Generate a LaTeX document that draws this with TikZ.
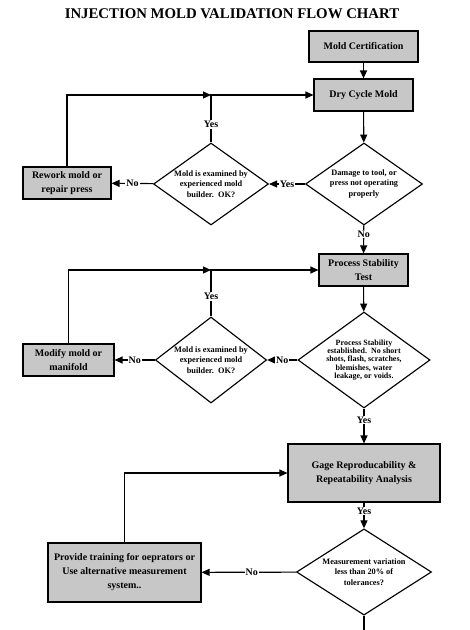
\documentclass[tikz,border=0pt]{standalone}
\usepackage{fontspec}
\setmainfont{Liberation Serif}
\usetikzlibrary{arrows.meta,shapes.geometric}
\tikzset{
  stepbox/.style={draw, line width=0.4mm, fill=black!22, align=center, inner sep=2pt,
    font=\bfseries\fontsize{10}{14}\selectfont},
  choice/.style={draw, diamond, line width=0.4mm, fill=white, align=center, inner sep=0pt,
    aspect=1.4, font=\bfseries\fontsize{8.3}{10.5}\selectfont},
  flow/.style={line width=0.4mm, -{Triangle[length=8pt,width=7pt]}},
  plain/.style={line width=0.4mm},
  tag/.style={fill=white, inner sep=1pt, font=\bfseries\fontsize{10}{12}\selectfont}
}

\begin{document}
\begin{tikzpicture}[x=1pt, y=-1pt]
			%%%%% START %%%%%
			\useasboundingbox (0,0) rectangle (470,630);
			
			\node[font=\bfseries\fontsize{14.8}{17}\selectfont] (title) at (232,14) {INJECTION MOLD VALIDATION FLOW CHART};
			
			% first loop
			\node[stepbox, minimum width=109, minimum height=31] (cert) at (363.5,46.5) {Mold Certification};
			\node[stepbox, minimum width=99, minimum height=32] (dry) at (363.5,95) {Dry Cycle Mold};
			\node[choice, minimum width=117, minimum height=82] (damage) at (364,184) {Damage to tool, or\\press not operating\\properly};
			\node[choice, minimum width=115, minimum height=82] (exam1) at (211,184) {Mold is examined by\\experienced mold\\builder.\ \ OK?};
			\node[stepbox, minimum width=88, minimum height=32] (rework) at (67,183) {Rework mold or\\repair press};
			
			\draw[flow] (cert) -- (dry);
			\draw[flow] (dry) -- (damage);
			\draw[flow] (damage) -- node[tag]{Yes} (exam1);
			\draw[flow] (exam1) -- node[tag]{No} (rework);
			\draw[flow] (exam1.north) -- node[tag, pos=0.375]{Yes} (exam1.north |- dry.west) -- (dry.west);
			\draw[flow] (rework.north) |- (exam1.north |- dry.west);
			
			% second loop
			\node[stepbox, minimum width=89, minimum height=32] (pst) at (363.5,270) {Process Stability\\Test};
			\node[choice, minimum width=127, minimum height=96, font=\bfseries\fontsize{8}{8.3}\selectfont] (stable) at (364,360) {Process Stability\\established.\ \ No short\\shots, flash, scratches,\\blemishes, water\\leakage, or voids.};
			\node[choice, minimum width=110, minimum height=86] (exam2) at (211,360) {Mold is examined by\\experienced mold\\builder.\ \ OK?};
			\node[stepbox, minimum width=91, minimum height=32] (modify) at (68.5,360) {Modify mold or\\manifold};
			
			\draw[flow] (damage) -- node[tag, pos=0.31]{No} (pst);
			\draw[flow] (pst) -- (stable);
			\draw[flow] (stable) -- node[tag]{No} (exam2);
			\draw[flow] (exam2) -- node[tag]{No} (modify);
			\draw[flow] (exam2.north) -- node[tag, pos=0.43]{Yes} (exam2.north |- pst.west) -- (pst.west);
			\draw[flow] (modify.north) |- (exam2.north |- pst.west);
			
			% gage study
			\node[stepbox, minimum width=152, minimum height=58] (gage) at (364,473) {Gage Reproducability \&\\Repeatability Analysis};
			\node[choice, minimum width=135, minimum height=69] (meas) at (364,572) {Measurement variation\\less than 20\% of\\tolerances?};
			\node[stepbox, minimum width=153, minimum height=59] (train) at (124.5,572.5) {Provide training for oeprators or\\Use alternative measurement\\system..};
			\coordinate (exit) at (364,630);
			
			\draw[flow] (stable) -- node[tag, pos=0.33]{Yes} (gage);
			\draw[flow] (gage) -- node[tag, pos=0.33]{Yes} (meas);
			\draw[flow] (meas) -- node[tag, pos=0.47]{No} (train);
			\draw[flow] (train.north) |- (gage.west);
			\draw[plain] (meas.south) -- (exit);
			
			%%%%% END %%%%%
\end{tikzpicture}
\end{document}
